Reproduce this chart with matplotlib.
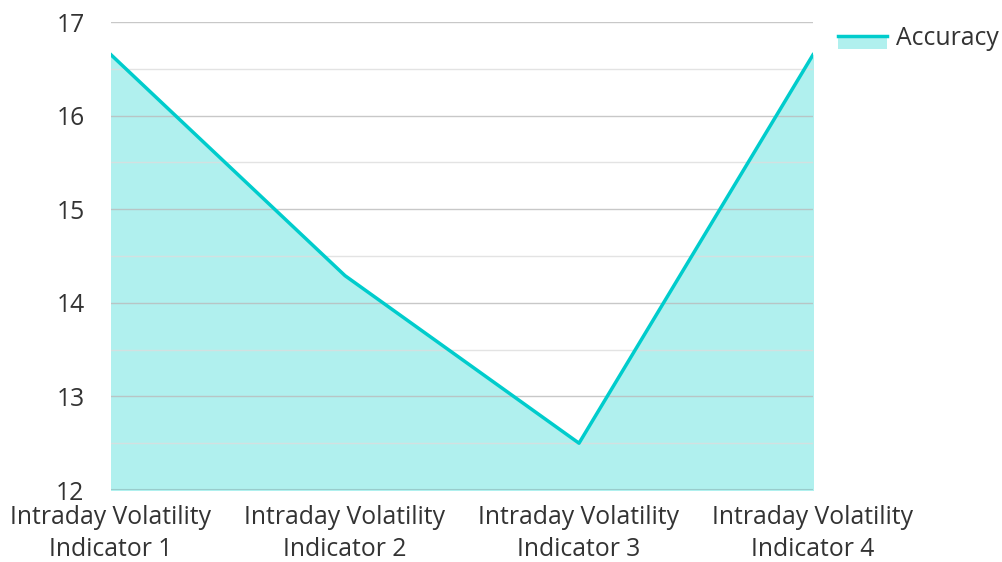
import numpy as np
import matplotlib.pyplot as plt
from matplotlib.lines import Line2D
from matplotlib.patches import Rectangle
from matplotlib.legend_handler import HandlerBase

plt.rcParams['font.family'] = ['Open Sans', 'DejaVu Sans']

categories = ['Intraday Volatility\nIndicator 1', 'Intraday Volatility\nIndicator 2',
              'Intraday Volatility\nIndicator 3', 'Intraday Volatility\nIndicator 4']
accuracy = [16.65, 14.29, 12.5, 16.65]

line_color = '#00cccc'
fill_color = '#b0f0ee'
fs = 17.8


class AreaHandler(HandlerBase):
    # line on top, filled strip below it, like the area legend in the reference
    def create_artists(self, legend, orig_handle, xdescent, ydescent, width, height, fontsize, trans):
        ymid = -ydescent + height * 0.5
        r = Rectangle((-xdescent, ymid - height * 0.75), width, height * 0.75,
                      facecolor=fill_color, edgecolor='none', transform=trans)
        l = Line2D([-xdescent, -xdescent + width], [ymid, ymid], color=line_color, lw=2.5, transform=trans)
        return [r, l]


fig = plt.figure(figsize=(10.03, 5.62), dpi=100)
ax = fig.add_axes([111 / 1003, 1 - 490 / 562, 702 / 1003, 468 / 562])

x = np.arange(len(categories))
ax.fill_between(x, 12, accuracy, color=fill_color, zorder=1)
area_line, = ax.plot(x, accuracy, color=line_color, lw=2.5, zorder=3, label='Accuracy')

ax.set_xlim(0, len(categories) - 1)
ax.set_ylim(12, 17)
ax.set_yticks(range(12, 18))
ax.set_xticks(x)
ax.set_xticklabels(categories, linespacing=1.38)

for yv in range(13, 18):
    ax.axhline(yv, color='#bbbbbb', lw=1, alpha=0.8, zorder=2)
for yv in np.arange(12.5, 17, 1):
    ax.axhline(yv, color='#dddddd', lw=1, alpha=0.8, zorder=2)
ax.axhline(12, color='#99cccc', lw=1.5, zorder=2)

for s in ax.spines.values():
    s.set_visible(False)
ax.tick_params(axis='both', which='both', length=0, labelsize=fs, colors='#333333')
ax.tick_params(axis='y', pad=19)
ax.tick_params(axis='x', pad=11)

fig.legend([area_line], ['Accuracy'], handler_map={Line2D: AreaHandler()},
           loc='upper left', bbox_to_anchor=(838 / 1003, 1 - 26 / 562), frameon=False,
           borderpad=0, borderaxespad=0, fontsize=fs, handlelength=2.0, handletextpad=0.36,
           labelcolor='#333333')

fig.savefig('out.png', dpi=100)
